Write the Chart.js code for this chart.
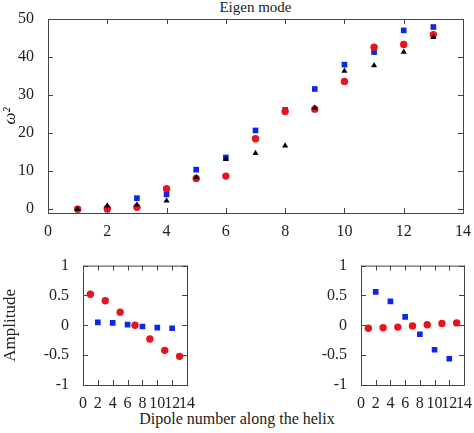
<!DOCTYPE html>
<html><head><meta charset="utf-8">
<script src="https://cdn.jsdelivr.net/npm/chart.js@4"></script>
<style>
body{margin:0;background:#fff;width:474px;height:433px;position:relative;overflow:hidden;font-family:"Liberation Serif","DejaVu Serif",serif}
canvas{position:absolute}
.t{position:absolute;font-size:15px;color:#222;white-space:nowrap}
</style></head><body>
<div class="t" style="left:0;width:511px;text-align:center;top:-1px">Eigen mode</div>
<div class="t" style="left:0;width:474px;text-align:center;top:410px;font-size:16px">Dipole number along the helix</div>
<div style="position:absolute;left:0;top:0;width:474px;height:240px"><canvas id="c1"></canvas></div>
<div style="position:absolute;left:0;top:250px;width:200px;height:160px"><canvas id="c2"></canvas></div>
<div style="position:absolute;left:300px;top:250px;width:174px;height:160px"><canvas id="c3"></canvas></div>
<script>
const modes=[1,2,3,4,5,6,7,8,9,10,11,12,13];
const blueW2=[0,-0.1,2.9,3.9,10.4,13.6,20.7,26.1,31.6,38.0,41.3,47.0,47.9];
const redW2=[0,0.2,0.5,5.4,8.1,8.7,18.5,25.7,26.3,33.6,42.6,43.3,45.9];
const blackW2=[0,0.9,1.2,2.2,8.3,13.1,14.7,16.7,26.7,36.3,37.8,41.3,45.2];
const oddDip=[1,3,5,7,9,11,13];
const evenDip=[2,4,6,8,10,12];
const leftRed=[0.52,0.41,0.22,0,-0.23,-0.42,-0.52];
const leftBlue=[0.05,0.04,0.01,-0.02,-0.04,-0.05];
const rightRed=[-0.05,-0.04,-0.03,-0.01,0.01,0.03,0.04];
const rightBlue=[0.56,0.40,0.14,-0.15,-0.41,-0.56];
const topYTicks=[0,10,20,30,40,50];
const xTicks=[0,2,4,6,8,10,12,14];
const ampTicks=[-1,-0.5,0,0.5,1];
const RED='#e8141c',BLUE='#0a28e6',BLACK='#000';
Chart.defaults.font.family='Liberation Serif';
Chart.defaults.font.size=16;
const F={family:'Liberation Serif',size:16};
const pts=(xs,ys)=>xs.map((x,i)=>({x,y:ys[i]}));
function ds(data,color,style,r){return {data,backgroundColor:color,borderColor:color,pointStyle:style,pointRadius:r,pointHoverRadius:r,borderWidth:0};}
const inTicks={id:'inTicks',afterDraw(c){const ctx=c.ctx,a=c.chartArea,x=c.scales.x,y=c.scales.y;ctx.save();ctx.strokeStyle='#444';ctx.lineWidth=1;
 x.ticks.forEach(t=>{const p=Math.round(x.getPixelForValue(t.value))+0.5;ctx.beginPath();ctx.moveTo(p,a.bottom);ctx.lineTo(p,a.bottom-5);ctx.moveTo(p,a.top);ctx.lineTo(p,a.top+5);ctx.stroke();});
 y.ticks.forEach(t=>{const p=Math.round(y.getPixelForValue(t.value))+0.5;ctx.beginPath();ctx.moveTo(a.left,p);ctx.lineTo(a.left+5,p);ctx.moveTo(a.right,p);ctx.lineTo(a.right-5,p);ctx.stroke();});
 ctx.strokeRect(a.left+0.5,a.top+0.5,a.right-a.left,a.bottom-a.top);ctx.restore();}};
function axes(xmin,xmax,yticks,ymin,ymax,yW,xH,ytitle,yfmt,tfont){
 return {x:{type:'linear',min:xmin,max:xmax,afterBuildTicks:s=>{s.ticks=xTicks.map(v=>({value:v}));},afterFit:s=>{s.height=xH;},
   grid:{display:false},border:{display:false},ticks:{font:F,color:'#222',padding:1,maxRotation:0,autoSkip:false}},
  y:{min:ymin,max:ymax,afterBuildTicks:s=>{s.ticks=yticks.map(v=>({value:v}));},afterFit:s=>{s.width=yW;},
   grid:{display:false},border:{display:false},
   title:{display:!!ytitle,text:ytitle,font:tfont||{family:'Liberation Serif',size:17},color:'#222',padding:0},
   ticks:{font:F,color:'#222',padding:6,autoSkip:false,callback:yfmt}}};}
const common={responsive:true,maintainAspectRatio:false,animation:false,plugins:{legend:{display:false},tooltip:{enabled:false}},events:[]};
new Chart(document.getElementById('c1'),{type:'scatter',data:{datasets:[
 ds(pts(modes,blackW2),BLACK,'triangle',3.5),ds(pts(modes,redW2),RED,'circle',3.7),ds(pts(modes,blueW2),BLUE,'rect',4)]},
 options:{...common,layout:{padding:{top:19,right:11,left:0,bottom:0}},scales:axes(0,14,topYTicks,-1,50,48,27,'ω²',v=>v,{family:'Liberation Serif',size:17,style:'italic'})},plugins:[inTicks]});
const af=v=>v===0?'0':String(v);
new Chart(document.getElementById('c2'),{type:'scatter',data:{datasets:[
 ds(pts(oddDip,leftRed),RED,'circle',3.7),ds(pts(evenDip,leftBlue),BLUE,'rect',4)]},
 options:{...common,layout:{padding:{top:12,right:13,left:0,bottom:0}},scales:axes(0,14,ampTicks,-1,1,83,25,'Amplitude',af)},plugins:[inTicks]});
new Chart(document.getElementById('c3'),{type:'scatter',data:{datasets:[
 ds(pts(oddDip,rightRed),RED,'circle',3.7),ds(pts(evenDip,rightBlue),BLUE,'rect',4)]},
 options:{...common,layout:{padding:{top:12,right:10,left:0,bottom:0}},scales:axes(0,14,ampTicks,-1,1,61,25,'',af)},plugins:[inTicks]});
</script></body></html>
